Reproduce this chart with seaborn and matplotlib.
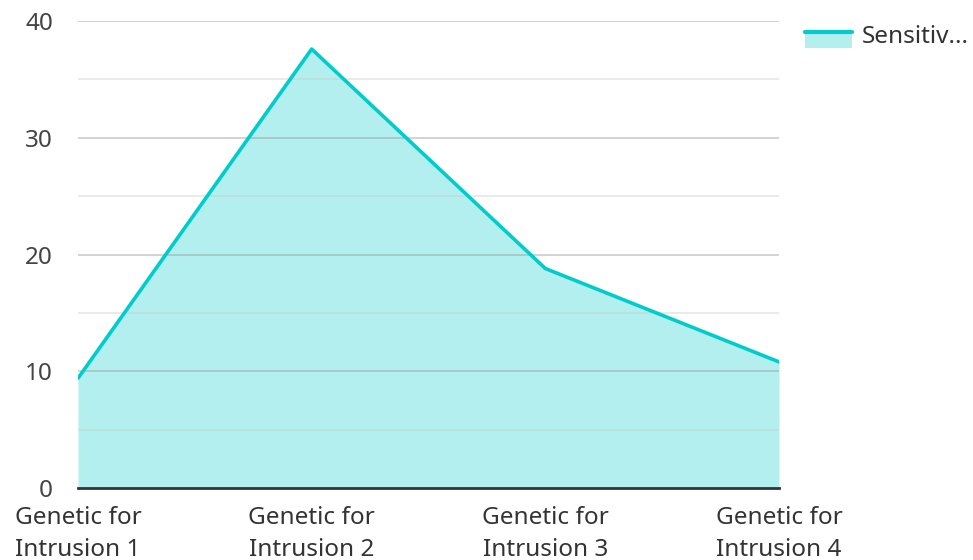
import matplotlib
matplotlib.use("Agg")
import matplotlib.pyplot as plt
import seaborn as sns
import pandas as pd
from matplotlib.legend_handler import HandlerBase
from matplotlib.patches import Rectangle
from matplotlib.lines import Line2D

categories = ["Genetic for\nIntrusion 1", "Genetic for\nIntrusion 2", "Genetic for\nIntrusion 3", "Genetic for\nIntrusion 4"]
values = [9.4, 37.6, 18.8, 10.8]
series_name = "Sensitiv..."
yticks = [0, 10, 20, 30, 40]

LINE = "#00cccc"
FILL = "#b2efee"

sns.set_theme(style="white")
plt.rcParams["font.family"] = ["Noto Sans", "DejaVu Sans"]

df = pd.DataFrame({"x": range(len(categories)), "y": values, "s": series_name})

fig = plt.figure(figsize=(9.73, 5.6), dpi=100)
ax = fig.add_axes([78 / 973, 1 - 488 / 560, (779 - 78) / 973, (488 - 21) / 560])

ax.fill_between(df["x"], df["y"], 0, color=FILL, lw=0, zorder=1)
sns.lineplot(data=df, x="x", y="y", color=LINE, lw=2.6, ax=ax, zorder=3, legend=False)

# grid lines on top of fill
for v in range(5, 41, 5):
    if v % 10 == 0:
        ax.axhline(v, color="#9a9a9a", lw=1.2, alpha=0.5, zorder=2)
    else:
        ax.axhline(v, color="#c8c8c8", lw=1.2, alpha=0.45, zorder=2)

ax.set_xlim(0, len(categories) - 1)
ax.set_ylim(0, 40)
ax.set_yticks(yticks)
ax.set_yticklabels([str(t) for t in yticks], fontsize=17.5, color="#444444")
ax.set_xticks(range(len(categories)))
ax.set_xticklabels(categories, fontsize=17.5, color="#333333", linespacing=1.42)
ax.tick_params(axis="y", length=0, pad=18)
ax.tick_params(axis="x", length=0, pad=13)
for lab in ax.get_xticklabels():
    lab.set_ha("center")
    lab.set_va("top")
for s in ["top", "right", "left"]:
    ax.spines[s].set_visible(False)
ax.spines["bottom"].set_color("#333333")
ax.spines["bottom"].set_linewidth(2)
ax.spines["bottom"].set_zorder(4)
ax.set_xlabel("")
ax.set_ylabel("")


class AreaHandler(HandlerBase):
    def create_artists(self, legend, orig_handle, xdescent, ydescent, width, height, fontsize, trans):
        r = Rectangle((-xdescent, -ydescent - height * 0.25), width, height * 1.0,
                      facecolor=FILL, edgecolor="none", transform=trans)
        l = Line2D([-xdescent, -xdescent + width], [-ydescent + height * 0.65] * 2,
                   color=LINE, lw=3, transform=trans)
        return [r, l]


handle = Rectangle((0, 0), 1, 1)
leg = fig.legend([handle], [series_name], handler_map={Rectangle: AreaHandler()},
                 loc="upper left", bbox_to_anchor=(805 / 973, 1 - 25 / 560), frameon=False,
                 borderpad=0, borderaxespad=0,
                 fontsize=17.5, handlelength=1.95, handleheight=0.75, handletextpad=0.4)
for t in leg.get_texts():
    t.set_color("#333333")

fig.savefig("out.png", dpi=100)
